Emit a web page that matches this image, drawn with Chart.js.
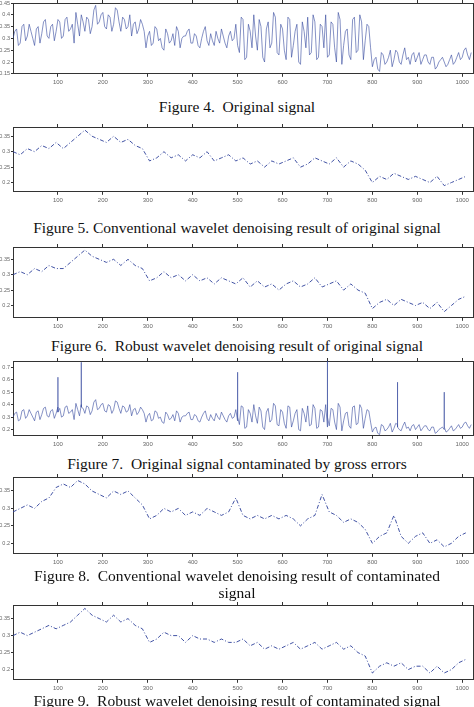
<!DOCTYPE html><html><head><meta charset="utf-8">
<script src="https://cdn.jsdelivr.net/npm/chart.js@4"></script>
<style>
body{margin:0;width:474px;height:707px;background:#fff;position:relative;overflow:hidden;font-family:"Liberation Serif",serif}
.c{position:absolute;left:0;width:474px}
.cap{position:absolute;left:0;width:474px;text-align:center;font-size:15.5px;color:#111;line-height:17px}
</style></head><body>
<div class="c" style="top:-4px;height:92px"><canvas id="c1"></canvas></div>
<div class="cap" style="top:98px">Figure 4.&nbsp; Original signal</div>
<div class="c" style="top:120px;height:86px"><canvas id="c2"></canvas></div>
<div class="cap" style="top:219px">Figure 5. Conventional wavelet denoising result of original signal</div>
<div class="c" style="top:240px;height:92px"><canvas id="c3"></canvas></div>
<div class="cap" style="top:337px">Figure 6.&nbsp; Robust wavelet denoising result of original signal</div>
<div class="c" style="top:354px;height:96px"><canvas id="c4"></canvas></div>
<div class="cap" style="top:455px">Figure 7.&nbsp; Original signal contaminated by gross errors</div>
<div class="c" style="top:470px;height:98px"><canvas id="c5"></canvas></div>
<div class="cap" style="top:567px">Figure 8.&nbsp; Conventional wavelet denoising result of contaminated<br>signal</div>
<div class="c" style="top:598px;height:96px"><canvas id="c6"></canvas></div>
<div class="cap" style="top:692px">Figure 9.&nbsp; Robust wavelet denoising result of contaminated signal</div>
<script>
const xTicks=[100,200,300,400,500,600,700,800,900,1000];
// samples at x = 0, 8, 16, ...
const originalEven=[0.30,0.34,0.28,0.36,0.31,0.33,0.27,0.35,0.32,0.38,0.30,0.36,0.33,
0.37,0.31,0.39,0.34,0.28,0.36,0.40,0.33,0.38,0.35,0.44,0.37,
0.41,0.34,0.39,0.36,0.42,0.33,0.38,0.35,0.31,0.37,0.34,0.36,
0.26,0.33,0.28,0.34,0.30,0.25,0.32,0.29,0.27,0.33,0.30,0.31,0.34,
0.28,0.31,0.26,0.33,0.29,0.32,0.27,0.30,0.34,0.28,0.31,0.29,
0.36,0.24,0.38,0.22,0.33,0.40,0.25,0.35,0.20,0.37,0.28,0.39,0.23,
0.34,0.21,0.38,0.27,0.36,0.19,0.33,0.39,0.24,0.37,0.22,0.35,
0.40,0.23,0.36,0.20,0.38,0.27,0.34,0.21,0.39,0.25,0.37,0.29,0.35,
0.18,0.22,0.16,0.23,0.20,0.25,0.21,0.24,0.19,0.26,0.22,0.23,
0.20,0.24,0.21,0.23,0.19,0.22,0.18,0.21,0.20,0.19,0.23,0.20,0.24,0.22,0.26,0.21];
// samples at x = 4, 12, 20, ...
const originalOdd=[0.33,0.27,0.35,0.29,0.36,0.30,0.34,0.28,0.37,0.31,0.35,0.29,0.38,
0.30,0.38,0.33,0.36,0.41,0.31,0.37,0.39,0.32,0.42,0.36,0.40,
0.35,0.40,0.33,0.43,0.37,0.39,0.34,0.40,0.36,0.32,0.38,0.33,
0.31,0.27,0.35,0.29,0.26,0.34,0.28,0.32,0.35,0.26,0.31,0.33,0.28,
0.32,0.27,0.30,0.35,0.27,0.29,0.33,0.28,0.31,0.26,0.33,0.30,
0.27,0.39,0.21,0.36,0.26,0.31,0.38,0.22,0.34,0.26,0.41,0.24,0.36,
0.25,0.39,0.22,0.33,0.20,0.37,0.26,0.23,0.40,0.21,0.36,0.26,
0.22,0.37,0.26,0.41,0.19,0.33,0.23,0.38,0.24,0.40,0.21,0.36,0.26,
0.21,0.17,0.24,0.19,0.22,0.18,0.25,0.20,0.23,0.21,0.19,0.24,
0.22,0.19,0.23,0.20,0.22,0.17,0.20,0.22,0.18,0.21,0.19,0.22,0.21,0.25,0.23,0.24];
const conventional=[0.30,0.29,0.31,0.30,0.32,0.31,0.33,
0.31,0.33,0.35,0.37,0.35,0.34,
0.33,0.35,0.33,0.34,0.32,0.31,
0.27,0.28,0.30,0.28,0.29,0.27,
0.29,0.28,0.30,0.27,0.28,0.29,
0.27,0.28,0.26,0.27,0.25,0.27,0.26,
0.27,0.28,0.25,0.26,0.28,0.27,
0.26,0.28,0.25,0.27,0.26,0.24,
0.20,0.22,0.21,0.23,0.22,0.21,0.22,
0.21,0.20,0.22,0.19,0.20,0.21,0.22];
const robust=[0.30,0.31,0.30,0.32,0.31,0.33,0.32,
0.32,0.34,0.36,0.38,0.36,0.35,
0.34,0.35,0.33,0.35,0.33,0.32,
0.28,0.29,0.31,0.29,0.30,0.28,
0.30,0.28,0.29,0.27,0.29,0.28,
0.27,0.29,0.26,0.28,0.26,0.27,0.25,
0.27,0.28,0.26,0.27,0.29,0.26,
0.27,0.28,0.25,0.27,0.25,0.24,
0.19,0.21,0.22,0.20,0.22,0.21,0.20,
0.21,0.19,0.21,0.18,0.20,0.22,0.23];
const grossX=[100,152,500,700,856,960];
const grossBase=[0.34,0.38,0.30,0.30,0.22,0.22];
const grossY=[0.62,0.74,0.66,0.75,0.58,0.50];
const contConventional=[0.29,0.30,0.31,0.30,0.32,0.33,0.36,
0.37,0.36,0.38,0.37,0.35,0.34,
0.33,0.35,0.34,0.35,0.33,0.31,
0.27,0.28,0.30,0.29,0.30,0.28,
0.29,0.28,0.30,0.29,0.28,0.29,
0.33,0.28,0.27,0.28,0.27,0.28,0.27,
0.28,0.27,0.25,0.27,0.28,0.34,
0.29,0.28,0.26,0.27,0.26,0.24,
0.20,0.22,0.23,0.28,0.22,0.20,0.22,
0.23,0.20,0.21,0.19,0.20,0.22,0.23];
const contRobust=[0.30,0.31,0.30,0.31,0.32,0.33,0.32,
0.33,0.34,0.36,0.38,0.36,0.35,
0.34,0.36,0.34,0.35,0.33,0.32,
0.28,0.29,0.31,0.30,0.30,0.28,
0.30,0.29,0.29,0.28,0.29,0.28,
0.28,0.29,0.27,0.28,0.26,0.27,0.26,
0.27,0.28,0.26,0.27,0.28,0.26,
0.27,0.28,0.26,0.27,0.25,0.24,
0.19,0.21,0.22,0.21,0.22,0.20,0.21,
0.21,0.19,0.21,0.19,0.20,0.22,0.23];

function pts(arr,step){return arr.map((v,i)=>({x:i*step,y:v}));}
function noisy(){
  const p=[];
  originalEven.forEach((v,i)=>{p.push({x:i*8,y:v});p.push({x:i*8+4,y:originalOdd[i]});});
  return p;
}
function withGross(){
  const p=noisy();
  grossX.forEach((gx,k)=>{p.push({x:gx,y:grossBase[k]},{x:gx,y:grossY[k]},{x:gx,y:grossBase[k]});});
  return p.sort((a,b)=>a.x-b.x);
}
const COL='#2c3f9a';
function make(id,data,ymin,ymax,yt,dashed){
  new Chart(document.getElementById(id),{type:'line',
    data:{datasets:[{data,borderColor:dashed?COL:'#34489e',borderWidth:dashed?0.9:0.6,pointRadius:0,borderDash:dashed?[4,2,1,2]:[],tension:0}]},
    options:{responsive:true,maintainAspectRatio:false,animation:false,
      layout:{padding:{left:0,right:0,top:4,bottom:0}},
      plugins:{legend:{display:false},tooltip:{enabled:false}},
      scales:{
        x:{type:'linear',min:0,max:1024,afterBuildTicks:a=>{a.ticks=xTicks.map(v=>({value:v}))},
          ticks:{font:{size:6},color:'#666',maxRotation:0,padding:2,callback:v=>String(v)},
          grid:{drawOnChartArea:false,tickLength:3,color:'#333'},border:{color:'#333'}},
        x2:{type:'linear',position:'top',min:0,max:1024,afterBuildTicks:a=>{a.ticks=xTicks.map(v=>({value:v}))},
          ticks:{display:false},grid:{drawOnChartArea:false,tickLength:3,color:'#333'},border:{color:'#333'}},
        y:{min:ymin,max:ymax,afterBuildTicks:a=>{a.ticks=yt.map(v=>({value:v}))},
          afterFit:a=>{a.width=13},
          ticks:{font:{size:5.5},color:'#666',padding:1,callback:v=>String(v)},grid:{drawOnChartArea:false,tickLength:2,color:'#333'},border:{color:'#333'}},
        y2:{position:'right',min:ymin,max:ymax,afterBuildTicks:a=>{a.ticks=yt.map(v=>({value:v}))},
          afterFit:a=>{a.width=1},
          ticks:{display:false},grid:{drawOnChartArea:false,tickLength:3,color:'#333'},border:{color:'#333'}}
      }}});
}
make('c1',noisy(),0.15,0.45,[0.15,0.2,0.25,0.3,0.35,0.4,0.45],false);
make('c2',pts(conventional,16),0.17,0.38,[0.2,0.25,0.3,0.35],true);
make('c3',pts(robust,16),0.16,0.39,[0.2,0.25,0.3,0.35],true);
make('c4',withGross(),0.15,0.75,[0.2,0.3,0.4,0.5,0.6,0.7],false);
make('c5',pts(contConventional,16),0.17,0.39,[0.2,0.25,0.3,0.35],true);
make('c6',pts(contRobust,16),0.17,0.39,[0.2,0.25,0.3,0.35],true);
</script></body></html>
